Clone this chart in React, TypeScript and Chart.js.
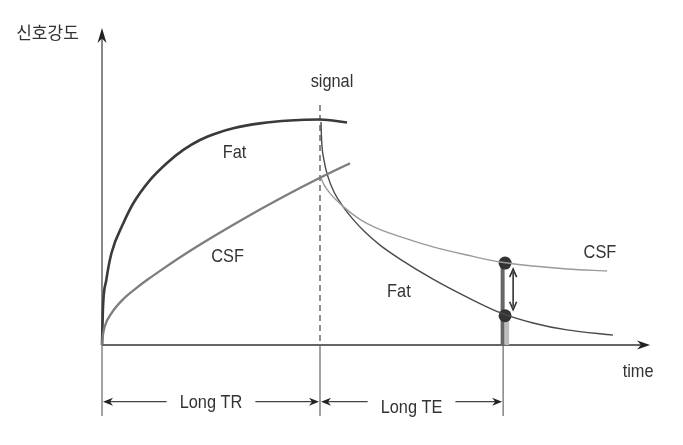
import { useEffect, useRef } from "react";
import { Chart, registerables } from "chart.js";

Chart.register(...registerables);

// ---- data (time in arbitrary units, signal in % of Fat maximum) ----
const TR = 100;
const TE = 184;

const fatRecT = [0, 0.23, 0.46, 1.97, 4.36, 9.77, 14.36, 22.0, 29.7, 37.3, 44.95, 52.6, 60.2, 72.5, 86.2, 100, 112.4];
const fatRecS = [0, 8.9, 16.9, 28.9, 40.9, 54.1, 63.0, 73.3, 80.8, 86.7, 91.1, 94.1, 96.3, 98.5, 99.8, 100.2, 98.9];

const csfRecT = [0, 0.3, 1.2, 4.3, 10.4, 16, 21.1, 28.8, 39.4, 51.1, 66.4, 81.7, 100, 113.8];
const csfRecS = [0, 3.5, 8.1, 14.1, 21.0, 25.5, 29.2, 34.4, 41.2, 48.2, 56.9, 65.1, 74.3, 80.8];

const fatDecT = [100.46, 100.73, 101.83, 103.67, 106.42, 110.09, 114.68, 120.64, 127.52, 136.7, 151.83, 167.43, 182.57, 197.7, 213.3, 234.4];
const fatDecS = [99.1, 91.1, 82.2, 74.7, 68.0, 62.2, 56.4, 50.2, 44.4, 38.2, 29.3, 21.3, 14.4, 9.8, 6.7, 4.4];

const csfDecT = [100.2, 101.8, 104.6, 110.7, 118.3, 126.0, 141.3, 151.8, 167.4, 182.6, 197.7, 213.3, 231.7];
const csfDecS = [74.7, 71.3, 67.4, 61.5, 55.8, 51.9, 46.7, 43.6, 40.0, 36.9, 35.1, 33.8, 32.9];

const dotT = [184.9, 184.9];
const dotS = [36.4, 13.0];

const curveLabels = ["Fat", "CSF", "Fat", "CSF"];
const curveLabelT = [60.8, 57.6, 136.2, 228.4];
const curveLabelS = [85.3, 39.2, 23.7, 40.9];

const yTitle = "신호강도";
const xTitle = "time";
const signalLabel = "signal";
const intervalLabels = ["Long TR", "Long TE"];

const zip = (t: number[], s: number[]) => t.map((x, i) => ({ x, y: s[i] }));

const FONT = "'Liberation Sans', Arial, sans-serif";
const KFONT = "'Noto Sans CJK KR', 'Noto Sans', sans-serif";
const SQUEEZE = 0.86;

function condText(ctx: CanvasRenderingContext2D, text: string, x: number, y: number) {
  ctx.save();
  ctx.translate(x, y);
  ctx.scale(SQUEEZE, 1);
  ctx.fillText(text, 0, 0);
  ctx.restore();
}

function arrowHead(ctx: CanvasRenderingContext2D, x: number, y: number, dir: "up" | "right" | "left", len: number, half: number) {
  ctx.save();
  ctx.translate(x, y);
  const rot = dir === "up" ? -Math.PI / 2 : dir === "left" ? Math.PI : 0;
  ctx.rotate(rot);
  ctx.beginPath();
  ctx.moveTo(0, 0);
  ctx.lineTo(-len, -half);
  ctx.lineTo(-len * 0.7, 0);
  ctx.lineTo(-len, half);
  ctx.closePath();
  ctx.fill();
  ctx.restore();
}

const diagramPlugin = {
  id: "diagram",
  beforeDatasetsDraw(chart: any) {
    const ctx: CanvasRenderingContext2D = chart.ctx;
    const xs = chart.scales.x;
    const ys = chart.scales.y;
    const px = (v: number) => xs.getPixelForValue(v);
    const py = (v: number) => ys.getPixelForValue(v);
    const x0 = px(0), y0 = py(0);
    ctx.save();
    ctx.strokeStyle = "#555";
    ctx.fillStyle = "#222";
    ctx.lineWidth = 1.4;
    // y axis
    ctx.beginPath();
    ctx.moveTo(x0, y0);
    ctx.lineTo(x0, py(139));
    ctx.stroke();
    arrowHead(ctx, x0, py(140.9), "up", 15, 4.5);
    // x axis
    ctx.lineWidth = 1.8;
    ctx.strokeStyle = "#666";
    ctx.beginPath();
    ctx.moveTo(x0, y0);
    ctx.lineTo(px(249), y0);
    ctx.stroke();
    arrowHead(ctx, px(251.4), y0, "right", 13, 4.5);
    // dashed TR line
    ctx.lineWidth = 1.2;
    ctx.strokeStyle = "#444";
    ctx.setLineDash([6, 4]);
    ctx.beginPath();
    ctx.moveTo(px(TR), py(106.7));
    ctx.lineTo(px(TR), y0);
    ctx.stroke();
    ctx.setLineDash([]);
    // verticals below the axis
    ctx.strokeStyle = "#666";
    ctx.lineWidth = 1.2;
    [0, TR, TE].forEach((t) => {
      ctx.beginPath();
      ctx.moveTo(px(t), y0);
      ctx.lineTo(px(t), py(-31.6));
      ctx.stroke();
    });
    // TE bar
    ctx.fillStyle = "#666";
    ctx.fillRect(px(TE) - 2.5, py(dotS[0]), 4, y0 - py(dotS[0]));
    ctx.fillStyle = "#bdbdbd";
    ctx.fillRect(px(TE) + 1.5, py(dotS[1]), 4.5, y0 - py(dotS[1]));
    ctx.restore();
  },
  afterDatasetsDraw(chart: any) {
    const ctx: CanvasRenderingContext2D = chart.ctx;
    const xs = chart.scales.x;
    const ys = chart.scales.y;
    const px = (v: number) => xs.getPixelForValue(v);
    const py = (v: number) => ys.getPixelForValue(v);
    ctx.save();
    ctx.fillStyle = "#333";
    ctx.textAlign = "center";
    ctx.textBaseline = "middle";
    ctx.font = `19px ${FONT}`;
    curveLabels.forEach((l, i) => condText(ctx, l, px(curveLabelT[i]), py(curveLabelS[i])));
    condText(ctx, signalLabel, px(105.5), py(116.9));
    condText(ctx, xTitle, px(245.9), py(-12));
    ctx.font = `17px ${KFONT}`;
    ctx.fillText(yTitle, px(-25), py(138.7));

    // double arrow between the two TE signals
    ctx.strokeStyle = "#333";
    ctx.fillStyle = "#333";
    ctx.lineWidth = 1.6;
    const ax = px(TE) + 10;
    const ya = py(dotS[0]) + 6, yb = py(dotS[1]) - 6;
    ctx.beginPath();
    ctx.moveTo(ax, ya + 3);
    ctx.lineTo(ax, yb - 3);
    ctx.stroke();
    ctx.beginPath();
    ctx.moveTo(ax - 3.5, ya + 8);
    ctx.lineTo(ax, ya);
    ctx.lineTo(ax + 3.5, ya + 8);
    ctx.moveTo(ax - 3.5, yb - 8);
    ctx.lineTo(ax, yb);
    ctx.lineTo(ax + 3.5, yb - 8);
    ctx.stroke();

    // interval arrows
    const intervals = [
      { a: 0, b: TR, label: intervalLabels[0], ty: -25.8 },
      { a: TR, b: TE, label: intervalLabels[1], ty: -28 },
    ];
    const ay = py(-25.2);
    ctx.font = `19px ${FONT}`;
    ctx.strokeStyle = "#444";
    ctx.fillStyle = "#222";
    ctx.lineWidth = 1.3;
    intervals.forEach((iv) => {
      const xa = px(iv.a) + 1, xb = px(iv.b) - 1;
      const cx = (xa + xb) / 2;
      const w = ctx.measureText(iv.label).width * SQUEEZE;
      const g1 = cx - w / 2 - 13, g2 = cx + w / 2 + 13;
      ctx.beginPath();
      ctx.moveTo(xa + 6, ay);
      ctx.lineTo(g1, ay);
      ctx.moveTo(g2, ay);
      ctx.lineTo(xb - 6, ay);
      ctx.stroke();
      arrowHead(ctx, xa, ay, "left", 10, 4);
      arrowHead(ctx, xb, ay, "right", 10, 4);
      ctx.fillStyle = "#333";
      condText(ctx, iv.label, cx, py(iv.ty));
      ctx.fillStyle = "#222";
    });
    ctx.restore();
  },
};

export default function App() {
  const ref = useRef<HTMLCanvasElement | null>(null);
  useEffect(() => {
    document.body.style.margin = "0";
    const canvas = ref.current!;
    const line = (t: number[], s: number[], color: string, width: number) => ({
      type: "line" as const,
      data: zip(t, s),
      borderColor: color,
      borderWidth: width,
      pointRadius: 0,
      fill: false,
      cubicInterpolationMode: "monotone" as const,
      showLine: true,
    });
    const chart = new Chart(canvas, {
      type: "scatter",
      data: {
        datasets: [
          line(csfRecT, csfRecS, "#7d7d7d", 2.3),
          line(fatRecT, fatRecS, "#3a3a3a", 2.6),
          line(csfDecT, csfDecS, "#9a9a9a", 1.4),
          line(fatDecT, fatDecS, "#4a4a4a", 1.4),
          {
            type: "scatter" as const,
            data: zip(dotT, dotS),
            pointRadius: 6.5,
            pointBackgroundColor: "#333",
            pointBorderColor: "#333",
            pointBorderWidth: 0,
          } as any,
        ],
      },
      options: {
        responsive: false,
        animation: false,
        layout: { padding: 0, autoPadding: false },
        plugins: { legend: { display: false }, tooltip: { enabled: false } },
        events: [],
        scales: {
          x: { type: "linear", display: false, min: -46.79, max: 266.51 },
          y: { type: "linear", display: false, min: -44.44, max: 153.33 },
        },
      },
      plugins: [diagramPlugin],
    });
    return () => chart.destroy();
  }, []);
  return (
    <div style={{ position: "absolute", left: 0, top: 0, width: 683, height: 445, background: "#fff" }}>
      <canvas ref={ref} width={683} height={445} style={{ width: 683, height: 445, display: "block" }} />
    </div>
  );
}
